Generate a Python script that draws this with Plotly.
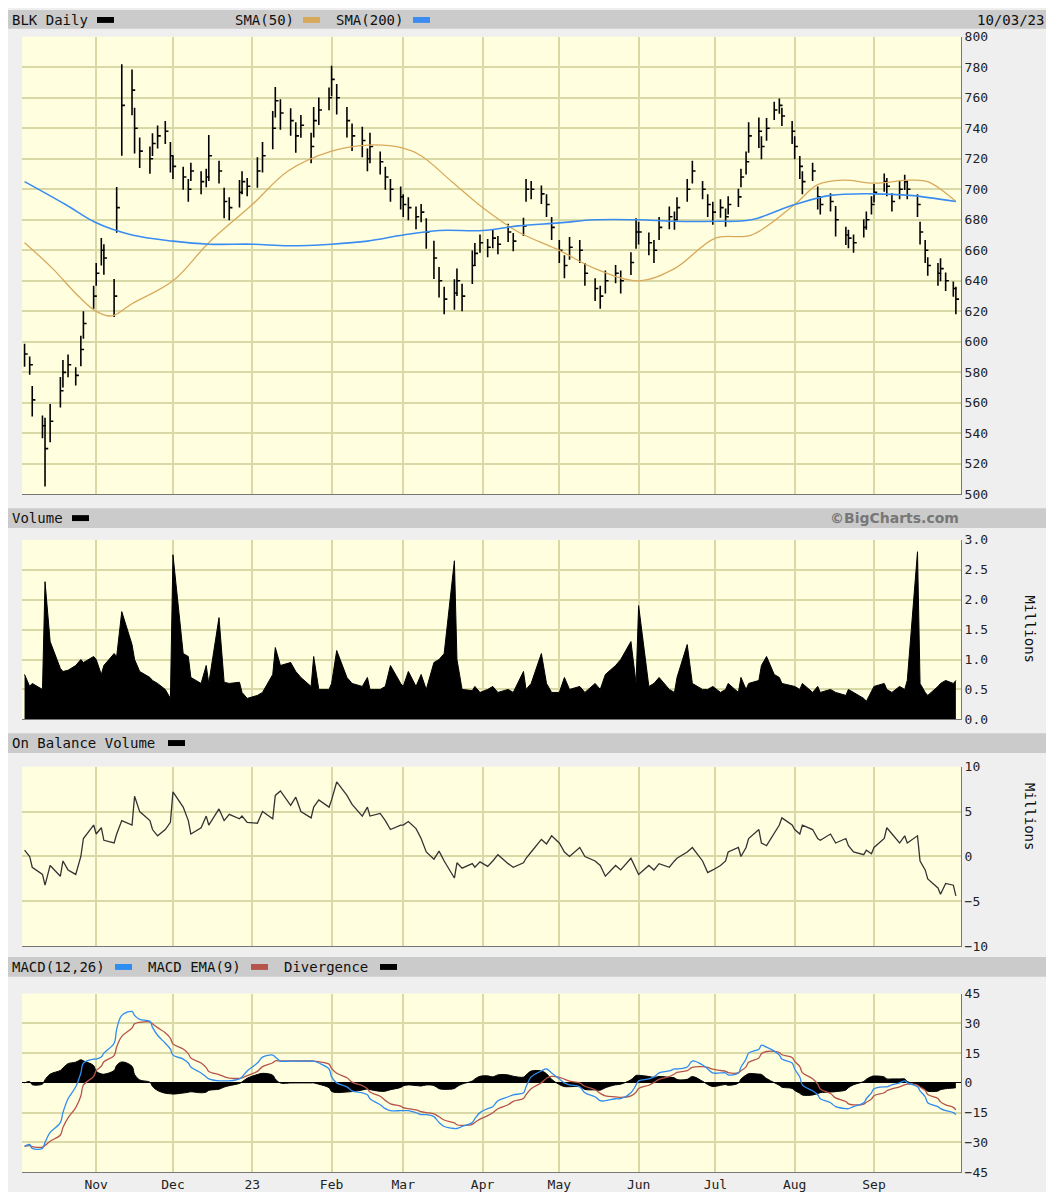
import numpy as np
import pandas as pd
import plotly.graph_objects as go

# ---- data, sampled roughly every other trading day, by month ----
months = [("2022-10-04", "2022-10-31"), ("2022-11-01", "2022-11-30"), ("2022-12-01", "2022-12-30"),
          ("2023-01-03", "2023-01-31"), ("2023-02-01", "2023-02-28"), ("2023-03-01", "2023-03-31"),
          ("2023-04-03", "2023-04-28"), ("2023-05-01", "2023-05-31"), ("2023-06-01", "2023-06-30"),
          ("2023-07-03", "2023-07-31"), ("2023-08-01", "2023-08-31"), ("2023-09-01", "2023-09-29"),
          ("2023-10-02", "2023-10-03")]

close_m = [
    [592, 585, 562, 545, 530, 548, 568, 580, 585, 578, 595, 612, 630],
    [645, 660, 655, 630, 688, 755, 765, 740, 725, 720, 730, 735, 738, 722],
    [715, 708, 700, 712, 705, 708, 722, 712, 692, 688, 698, 705, 702],
    [712, 722, 740, 758, 750, 745, 735, 742, 728, 745, 752, 760],
    [772, 760, 745, 735, 732, 720, 728, 718, 708, 700, 695],
    [690, 688, 682, 685, 672, 655, 640, 628, 632, 640, 630, 650, 658, 665],
    [662, 668, 664, 672, 666, 676, 700, 700, 697, 690, 675],
    [660, 650, 662, 660, 645, 635, 630, 640, 645, 640, 652, 672],
    [672, 665, 660, 675, 682, 680, 688, 700, 712, 700, 690, 685],
    [688, 682, 690, 695, 708, 718, 735, 738, 728, 740, 752, 755, 748, 738],
    [728, 715, 705, 712, 695, 690, 692, 680, 670, 668, 665, 675, 680, 690],
    [698, 705, 702, 692, 700, 705, 700, 690, 672, 660, 650, 645, 648, 640],
    [635, 628],
]
range_m = [
    [15, 12, 20, 15, 45, 25, 20, 18, 15, 12, 20, 18, 15],
    [15, 18, 20, 25, 30, 60, 30, 30, 20, 18, 15, 15, 15, 20],
    [15, 15, 15, 12, 15, 12, 30, 15, 20, 15, 18, 15, 12],
    [20, 20, 25, 20, 20, 18, 20, 15, 20, 20, 18, 15],
    [20, 20, 20, 18, 20, 15, 20, 15, 15, 15, 15],
    [15, 15, 15, 12, 20, 25, 20, 18, 20, 18, 18, 22, 15, 12],
    [12, 12, 12, 12, 12, 12, 15, 12, 12, 15, 15],
    [15, 15, 15, 15, 15, 15, 15, 15, 12, 15, 15, 20],
    [15, 15, 15, 15, 15, 12, 15, 15, 15, 12, 15, 15],
    [12, 12, 12, 12, 12, 15, 20, 20, 15, 15, 12, 10, 12, 15],
    [15, 15, 15, 12, 15, 12, 12, 20, 12, 12, 12, 12, 12, 12],
    [12, 12, 12, 12, 12, 10, 12, 15, 15, 15, 12, 15, 15, 12],
    [10, 18],
]
volume_m = [
    [0.75, 0.55, 0.6, 0.5, 2.3, 1.3, 0.85, 0.8, 0.82, 0.9, 1.0, 0.95, 1.05],
    [1.0, 0.75, 0.9, 1.1, 1.05, 1.8, 1.25, 1.0, 0.8, 0.7, 0.65, 0.6, 0.5, 0.35],
    [2.75, 1.1, 1.05, 0.7, 0.6, 0.9, 0.6, 1.7, 0.62, 0.6, 0.62, 0.45, 0.35],
    [0.4, 0.45, 0.75, 1.2, 0.9, 0.95, 0.8, 0.7, 0.55, 1.05, 0.5, 0.5],
    [0.6, 1.15, 0.7, 0.6, 0.55, 0.7, 0.5, 0.5, 0.55, 0.9, 0.6],
    [0.55, 0.8, 0.55, 0.75, 0.5, 0.95, 1.0, 1.1, 2.65, 1.0, 0.5, 0.48, 0.55, 0.45],
    [0.5, 0.55, 0.45, 0.5, 0.45, 0.8, 0.5, 0.6, 1.1, 0.6, 0.45],
    [0.45, 0.7, 0.5, 0.55, 0.45, 0.6, 0.5, 0.75, 0.9, 1.0, 1.3, 0.6],
    [1.9, 0.55, 0.6, 0.7, 0.5, 0.45, 0.7, 1.25, 0.6, 0.5, 0.5, 0.55],
    [0.45, 0.5, 0.6, 0.45, 0.7, 0.5, 0.6, 0.65, 0.9, 1.05, 0.75, 0.7, 0.6, 0.55],
    [0.55, 0.5, 0.6, 0.45, 0.55, 0.45, 0.5, 0.45, 0.4, 0.5, 0.45, 0.35, 0.3, 0.45],
    [0.55, 0.6, 0.5, 0.45, 0.55, 0.5, 0.65, 2.8, 0.6, 0.45, 0.4, 0.55, 0.6, 0.65],
    [0.6, 0.65],
]
obv_m = [
    [0.7, 0, -1.2, -2, -3.2, -1, -2.2, -0.5, -1.5, -2, 0, 2, 3.5],
    [2.5, 3.2, 1.8, 1.5, 2.5, 4, 3.5, 6.7, 5, 4, 3, 2.3, 3, 3.8],
    [7.2, 5.5, 4, 2.5, 3.2, 4.5, 3.5, 5.3, 4, 4.7, 4.2, 4.5, 3.8],
    [3.7, 5, 4.2, 6.8, 7.3, 5.7, 6.6, 5, 4.3, 5.5, 6.3, 5.5],
    [6.3, 8.3, 6.8, 5.8, 4.5, 5.5, 4.5, 4.8, 4, 3, 3.5],
    [3.5, 3.9, 3.1, 2, 0.5, -0.3, 0.6, -0.5, -2.4, -0.7, -1.3, -0.8, -1.2, -0.6],
    [-1.1, -0.5, 0.2, -0.8, -1.2, -0.7, -0.2, 0.5, 1.9, 1.4, 2.3],
    [1.5, 0.5, 0, 1, 0, -0.5, -1, -2.2, -1, -1.5, -0.2, -1.5],
    [-2, -1, -1.5, -0.8, -1.2, -0.5, -0.2, 0.5, 1, -0.5, -1.8, -1.5],
    [-1, -0.5, 0.5, 1, 0, 1, 2, 3, 1.5, 1.2, 2.5, 3.5, 4.3, 3.5],
    [3, 2.5, 3.5, 3, 2, 1.8, 2.5, 1.5, 2, 1.2, 0.5, 0.2, 0.7, 0.3],
    [1, 2, 3.2, 2.5, 1.5, 2.3, 1.5, 2.3, -0.5, -1.5, -2.5, -3.5, -4.2, -3],
    [-3.2, -4.4],
]
macd_m = [
    [-32, -31, -33, -33, -30, -25, -20, -15, -8, -2, 5, 10, 12],
    [12, 13, 15, 20, 27, 34, 36, 34, 32, 31, 28, 24, 20, 17],
    [14, 12, 10, 8, 5, 3, 2, 1, 1, 1, 2, 3, 6],
    [10, 13, 14, 13, 11, 11, 11, 11, 11, 11, 10, 7],
    [3, 0, -2, -4, -5, -6, -8, -11, -13, -14, -14],
    [-14, -14, -15, -16, -16, -17, -20, -22, -23, -23, -22, -20, -18, -15],
    [-13, -12, -9, -7, -6, -5, -2, 3, 6, 7, 5],
    [2, 0, -1, -2, -5, -7, -9, -9, -8, -8, -5, -1],
    [1, 2, 3, 5, 6, 7, 7, 8, 11, 9, 7, 5],
    [5, 5, 4, 5, 8, 12, 15, 17, 19, 18, 16, 14, 12, 10],
    [7, 3, -1, -4, -6, -8, -10, -12, -13, -13, -12, -10, -8, -5],
    [-3, -2, -2, -1, 0, 1, 0, -2, -4, -7, -10, -12, -13, -14],
    [-15, -16],
]

sma50_dates = ["2022-10-04", "2022-10-15", "2022-10-25", "2022-11-01", "2022-11-07", "2022-11-15",
               "2022-12-01", "2022-12-15", "2023-01-01", "2023-01-15", "2023-02-01", "2023-02-15",
               "2023-03-01", "2023-03-08", "2023-03-20", "2023-04-01", "2023-04-15", "2023-05-01",
               "2023-05-15", "2023-06-01", "2023-06-15", "2023-07-01", "2023-07-15", "2023-08-01",
               "2023-08-10", "2023-08-20", "2023-09-01", "2023-09-15", "2023-09-22", "2023-10-03"]
sma50 = [665, 648, 630, 620, 617, 625, 640, 665, 690, 712, 725, 729, 727, 722, 705, 688, 672, 660,
         648, 640, 648, 668, 670, 690, 703, 706, 704, 706, 705, 692]
sma200_dates = ["2022-10-04", "2022-10-20", "2022-11-01", "2022-11-15", "2022-12-01", "2022-12-15",
                "2023-01-01", "2023-01-15", "2023-02-01", "2023-02-15", "2023-03-01", "2023-03-15",
                "2023-04-01", "2023-04-15", "2023-05-01", "2023-05-15", "2023-06-01", "2023-06-15",
                "2023-07-01", "2023-07-15", "2023-08-01", "2023-08-15", "2023-09-01", "2023-09-15",
                "2023-10-03"]
sma200 = [705, 690, 678, 670, 666, 664, 664, 663, 664, 666, 670, 673, 673, 676, 678, 680, 680, 679,
          679, 680, 690, 696, 697, 696, 692]

month_ticks = ["2022-11-01", "2022-12-01", "2023-01-01", "2023-02-01", "2023-03-01", "2023-04-01",
               "2023-05-01", "2023-06-01", "2023-07-01", "2023-08-01", "2023-09-01"]
month_labels = ["Nov", "Dec", "23", "Feb", "Mar", "Apr", "May", "Jun", "Jul", "Aug", "Sep"]

# dates for each sampled bar, spread over each month's trading days
dates = []
for (a, b), vals in zip(months, close_m):
    bd = pd.bdate_range(a, b)
    idx = np.linspace(0, len(bd) - 1, len(vals)).round().astype(int)
    dates += list(bd[idx])
close = np.concatenate(close_m)
rng = np.concatenate(range_m)
volume = np.concatenate(volume_m)
obv = np.concatenate(obv_m)
macd = pd.Series(np.concatenate(macd_m), dtype=float)
signal = macd.ewm(span=5, adjust=False).mean()
diverg = macd - signal

# page has an 8px body margin; lay out in page pixels
OFF = 8
W, H = 1054 - 2 * OFF, 1200 - 2 * OFF
def px(x):
    return (x - OFF) / W
def py(y):
    return 1 - (y - OFF) / H

fig = go.Figure()

# price bars (high-low line with close tick)
bx, by = [], []
for d, c, r in zip(dates, close, rng):
    lo, hi = c - r * 0.55, c + r * 0.45
    bx += [d, d, None, d, d + pd.Timedelta(hours=30), None]
    by += [lo, hi, None, c, c, None]
fig.add_trace(go.Scatter(x=bx, y=by, mode="lines", line=dict(color="black", width=1.6),
                         xaxis="x", yaxis="y", hoverinfo="skip"))
fig.add_trace(go.Scatter(x=pd.to_datetime(sma50_dates), y=sma50, mode="lines", line=dict(color="#d9a95b", width=1.3, shape="spline"),
                         xaxis="x", yaxis="y"))
fig.add_trace(go.Scatter(x=pd.to_datetime(sma200_dates), y=sma200, mode="lines", line=dict(color="#3a8cf0", width=1.6, shape="spline"),
                         xaxis="x", yaxis="y"))
fig.add_trace(go.Scatter(x=dates, y=volume, mode="lines", fill="tozeroy", fillcolor="black",
                         line=dict(color="black", width=1), xaxis="x2", yaxis="y2"))
fig.add_trace(go.Scatter(x=dates, y=obv, mode="lines", line=dict(color="#333333", width=1.3),
                         xaxis="x3", yaxis="y3"))
fig.add_trace(go.Scatter(x=dates, y=diverg, mode="lines", fill="tozeroy", fillcolor="black",
                         line=dict(color="black", width=1, shape="spline"), xaxis="x4", yaxis="y4"))
fig.add_trace(go.Scatter(x=dates, y=signal, mode="lines", line=dict(color="#b5544a", width=1.3, shape="spline"),
                         xaxis="x4", yaxis="y4"))
fig.add_trace(go.Scatter(x=dates, y=macd, mode="lines", line=dict(color="#2f8cf0", width=1.3, shape="spline"),
                         xaxis="x4", yaxis="y4"))

grid = "#d9d9a8"
tickfont = dict(family="DejaVu Sans Mono", size=13, color="#222")
xr = ["2022-10-03", "2023-10-05"]
panels = [(30, 494, [500, 800], 20), (540, 722, [0, 3], 0.5), (770, 952, [-10, 10], 5), (1000, 1181, [-45, 45], 15)]
lay = {}
for i, (t, b, yr, dt) in enumerate(panels):
    s = "" if i == 0 else str(i + 1)
    lay["xaxis" + s] = dict(domain=[px(22), px(961)], range=xr, type="date", tickvals=month_ticks,
                            ticktext=month_labels, showticklabels=(i == 3), showgrid=True,
                            gridcolor=grid, gridwidth=2, ticks="", tickfont=tickfont,
                            anchor="y" + s, showline=True, linecolor="#777", mirror=False, zeroline=False)
    lay["yaxis" + s] = dict(domain=[py(b), py(t)], range=yr, dtick=dt, side="right", showgrid=True,
                            gridcolor=grid, gridwidth=2, tickfont=tickfont, anchor="x" + s,
                            showline=True, linecolor="#777", zeroline=False, ticks="",
                            tickformat=".1f" if i == 1 else "d")
lay["yaxis4"]["zeroline"] = True
lay["yaxis4"]["zerolinecolor"] = "black"
lay["yaxis4"]["zerolinewidth"] = 1

fig.update_layout(width=W, height=H, margin=dict(l=0, r=0, t=0, b=0), showlegend=False,
                  paper_bgcolor="#efefef", plot_bgcolor="#ffffe0", **lay)

shapes = []
annots = []
for t, b in [(3, 22), (508, 528), (736, 756), (963, 983)]:
    shapes.append(dict(type="rect", xref="paper", yref="paper", x0=px(3), x1=px(1051),
                       y0=py(b), y1=py(t), fillcolor="#cbcbcb", line=dict(width=0), layer="below"))
hfont = dict(family="DejaVu Sans Mono", size=14, color="#111")
def label(x, y, text, anchor="left", font=hfont):
    annots.append(dict(xref="paper", yref="paper", x=px(x), y=py(y), text=text, showarrow=False,
                       xanchor=anchor, yanchor="middle", font=font))
def swatch(x, y, color):
    shapes.append(dict(type="rect", xref="paper", yref="paper", x0=px(x), x1=px(x + 17),
                       y0=py(y + 3), y1=py(y - 3), fillcolor=color, line=dict(width=0)))
label(10, 13, "BLK Daily"); swatch(97, 13, "black")
label(233, 13, "SMA(50)"); swatch(303, 13, "#d9a95b")
label(334, 13, "SMA(200)"); swatch(413, 13, "#3a8cf0")
label(1046, 13, "10/03/23", "right")
label(10, 518, "Volume"); swatch(72, 518, "black")
label(961, 518, "<b>©BigCharts.com</b>", "right", dict(family="DejaVu Sans", size=14, color="#777"))
label(10, 746, "On Balance Volume"); swatch(168, 746, "black")
label(10, 973, "MACD(12,26)"); swatch(115, 973, "#2f8cf0")
label(146, 973, "MACD EMA(9)"); swatch(251, 973, "#b5544a")
label(282, 973, "Divergence"); swatch(380, 973, "black")
for y in (630, 856):
    annots.append(dict(xref="paper", yref="paper", x=px(1040), y=py(y), text="Millions", showarrow=False,
                       textangle=90, font=hfont))
fig.update_layout(shapes=shapes, annotations=annots)
fig.write_html("out.html")
